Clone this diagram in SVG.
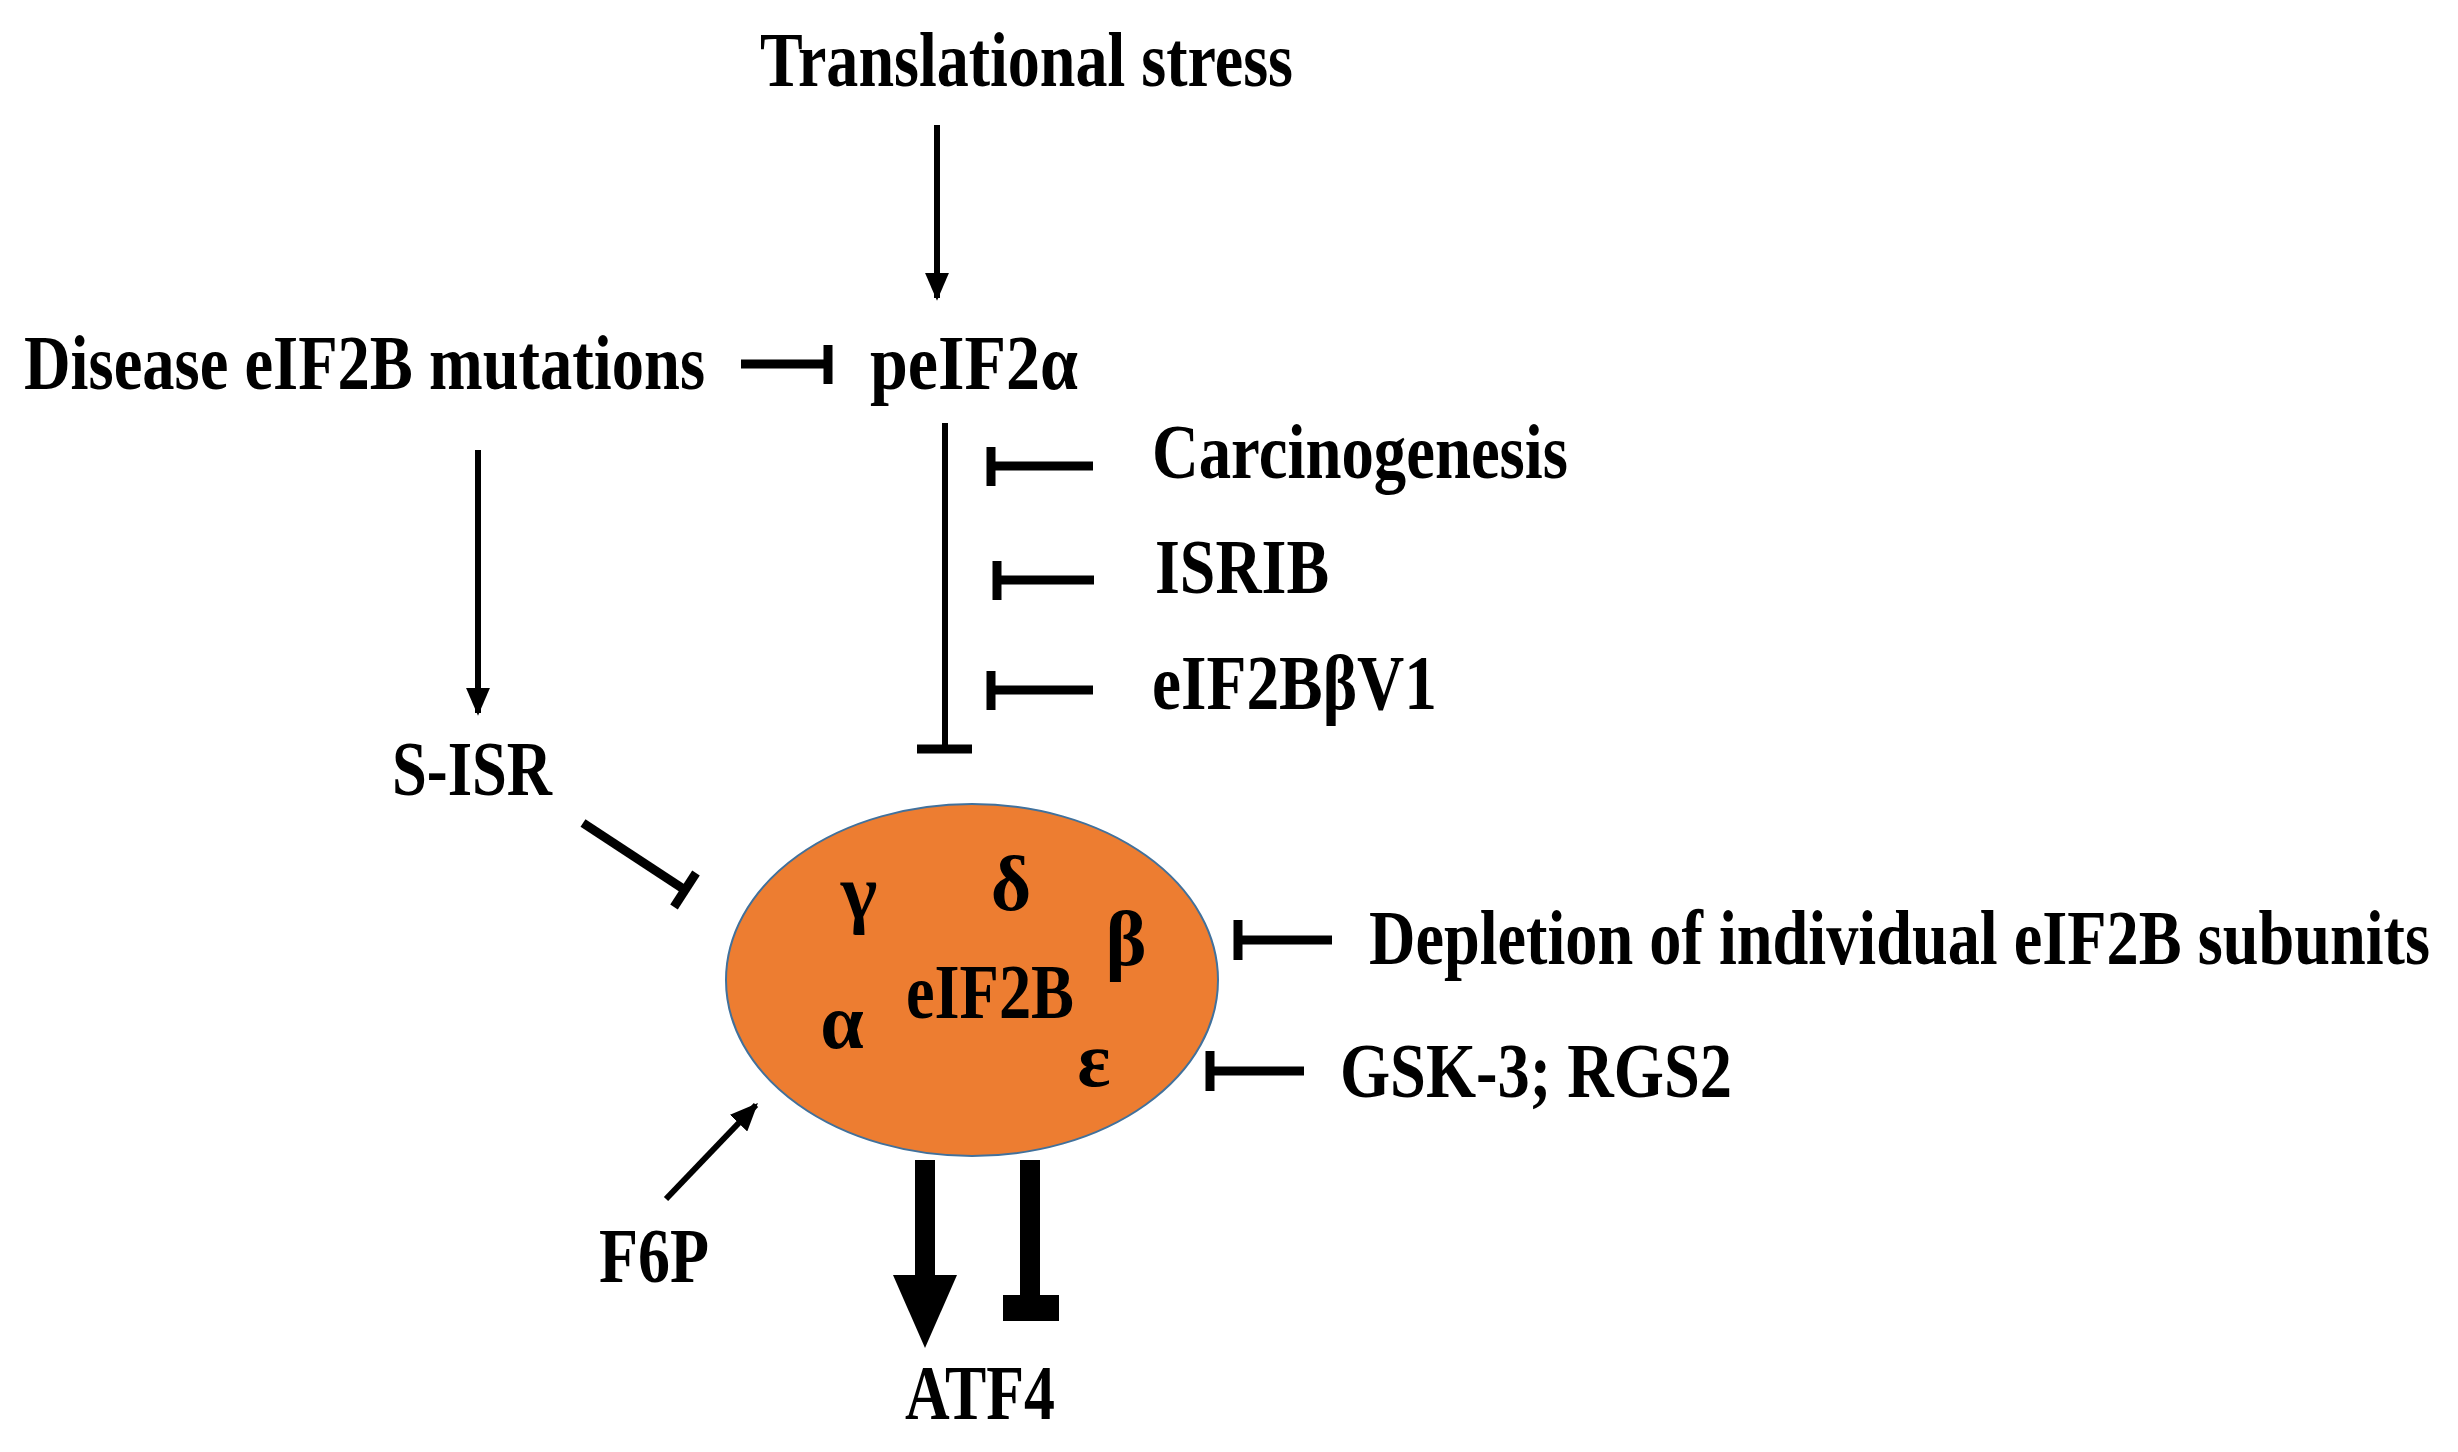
<svg xmlns="http://www.w3.org/2000/svg" width="2458" height="1452" viewBox="0 0 2458 1452">
<style>
text{font-family:"Liberation Serif",serif;font-weight:bold;font-size:78px;fill:#000}
.l{stroke:#000;stroke-width:6;fill:none}
.b{stroke:#000;stroke-width:9;fill:none}
</style>
<defs>
<marker id="ah" markerWidth="10" markerHeight="10" refX="9" refY="5" orient="auto" markerUnits="userSpaceOnUse" viewBox="0 0 10 10"><path d="M0,0 L10,5 L0,10 z" fill="#000"/></marker>
<marker id="a" viewBox="0 0 10 10" refX="9" refY="5" markerWidth="28" markerHeight="24" orient="auto" markerUnits="userSpaceOnUse" preserveAspectRatio="none"><path d="M0,0 L10,5 L0,10 z" fill="#000"/></marker>
</defs>
<rect width="2458" height="1452" fill="#fff"/>
<g id="connectors">
<line class="l" x1="937" y1="125" x2="937" y2="298" marker-end="url(#a)"/>
<line class="b" x1="741" y1="364" x2="828" y2="364"/><line class="b" x1="828" y1="345" x2="828" y2="384"/>
<line class="l" x1="945" y1="423" x2="945" y2="749"/><line class="b" x1="917" y1="749" x2="972" y2="749"/>
<line class="b" x1="1093" y1="466" x2="991" y2="466"/><line class="b" x1="991" y1="447" x2="991" y2="486"/>
<line class="b" x1="1094" y1="580" x2="997" y2="580"/><line class="b" x1="997" y1="561" x2="997" y2="600"/>
<line class="b" x1="1093" y1="690" x2="991" y2="690"/><line class="b" x1="991" y1="671" x2="991" y2="710"/>
<line class="l" x1="478" y1="450" x2="478" y2="713" marker-end="url(#a)"/>
<line class="b" x1="583" y1="823" x2="685" y2="890"/><line class="b" x1="674" y1="907" x2="696" y2="873"/>
<line class="b" x1="1332" y1="940" x2="1238" y2="940"/><line class="b" x1="1238" y1="920" x2="1238" y2="960"/>
<line class="b" x1="1304" y1="1071" x2="1210" y2="1071"/><line class="b" x1="1210" y1="1051" x2="1210" y2="1091"/>
<line class="l" x1="666" y1="1199" x2="756" y2="1105" marker-end="url(#a)"/>
<line stroke="#000" stroke-width="20" x1="925" y1="1160" x2="925" y2="1280"/>
<path d="M893,1275 L957,1275 L925,1348 z" fill="#000"/>
<line stroke="#000" stroke-width="20" x1="1030" y1="1160" x2="1030" y2="1300"/>
<rect x="1003" y="1295" width="56" height="26" fill="#000"/>
</g>
<g id="eIF2B">
<ellipse cx="972" cy="980" rx="246" ry="176" fill="#ED7D31" stroke="#41719C" stroke-width="2"/>
<text x="859" y="918" text-anchor="middle">γ</text>
<text x="1011" y="910" text-anchor="middle">δ</text>
<text x="1126" y="965" text-anchor="middle">β</text>
<text x="842" y="1048" text-anchor="middle">α</text>
<text x="1094" y="1086" text-anchor="middle">ε</text>
<text x="906" y="1018" textLength="168" lengthAdjust="spacingAndGlyphs">eIF2B</text>
</g>
<g id="translational"><text x="760" y="86" textLength="533" lengthAdjust="spacingAndGlyphs">Translational stress</text></g>
<g id="disease"><text x="24" y="389" textLength="681" lengthAdjust="spacingAndGlyphs">Disease eIF2B mutations</text></g>
<g id="peIF2a"><text x="870" y="389" textLength="208" lengthAdjust="spacingAndGlyphs">peIF2α</text></g>
<g id="carcinogenesis"><text x="1152" y="478" textLength="416" lengthAdjust="spacingAndGlyphs">Carcinogenesis</text></g>
<g id="isrib"><text x="1155" y="593" textLength="174" lengthAdjust="spacingAndGlyphs">ISRIB</text></g>
<g id="eif2bbv1"><text x="1152" y="709" textLength="285" lengthAdjust="spacingAndGlyphs">eIF2BβV1</text></g>
<g id="sisr"><text x="392" y="795" textLength="160" lengthAdjust="spacingAndGlyphs">S-ISR</text></g>
<g id="depletion"><text x="1369" y="964" textLength="1061" lengthAdjust="spacingAndGlyphs">Depletion of individual eIF2B subunits</text></g>
<g id="gsk"><text x="1340" y="1097" textLength="392" lengthAdjust="spacingAndGlyphs">GSK-3; RGS2</text></g>
<g id="f6p"><text x="599" y="1282" textLength="110" lengthAdjust="spacingAndGlyphs">F6P</text></g>
<g id="atf4"><text x="905" y="1419" textLength="150" lengthAdjust="spacingAndGlyphs">ATF4</text></g>
</svg>
